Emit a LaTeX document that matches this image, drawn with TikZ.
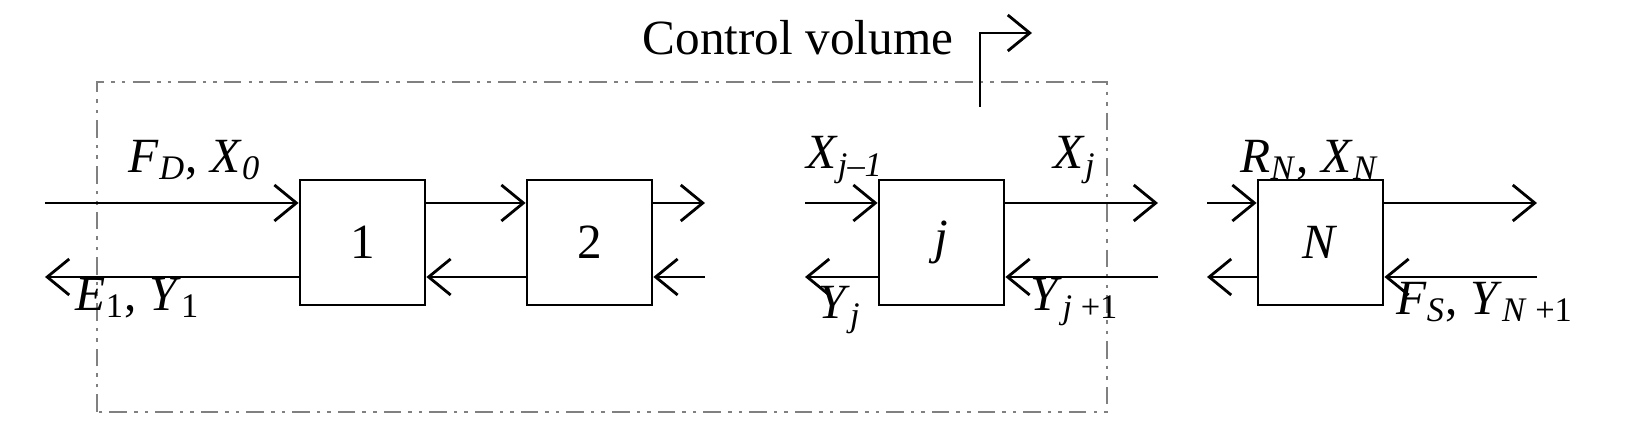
\documentclass[tikz,border=0pt]{standalone}
\usepackage{fontspec}
\setmainfont{Liberation Serif}
\usetikzlibrary{arrows.meta}
\newcommand{\vi}[1]{\textit{#1}}
\tikzset{
    stage/.style = {draw, line width=0.8pt, minimum width=1.25cm, minimum height=1.25cm, inner sep=0pt, font=\fontsize{14}{16}\selectfont},
    flow/.style = {line width=0.8pt, -{Straight Barb[length=2.2mm, width=3.6mm]}},
    lbl/.style = {font=\fontsize{14}{16}\selectfont}
}
\begin{document}
\begin{tikzpicture}
    \useasboundingbox (0, 0) rectangle (16.5, 4.28);
    % control volume
    \draw [gray, line width=0.8pt, dash pattern=on 5pt off 2pt on 1pt off 2pt on 1pt off 2pt] (0.97, 0.16) rectangle (11.07, 3.46);
    \node [lbl] at (7.98, 3.9) (cv) {Control volume};
    \coordinate (c0) at (9.8, 3.21);
    \coordinate (c1) at (9.8, 3.95);
    \coordinate (c2) at (10.32, 3.95);
    \draw [flow] (c0) -- (c1) -- (c2);
    % stages
    \node [stage] at (3.625, 1.855) (s1) {1};
    \node [stage] at (5.895, 1.855) (s2) {2};
    \node [stage] at (9.415, 1.855) (sj) {\vi{j}};
    \node [stage] at (13.205, 1.855) (sN) {\vi{N}};
    % free ends
    \coordinate (a0) at (0.45, 2.25);
    \coordinate (b0) at (0.45, 1.51);
    \coordinate (a2) at (7.05, 2.25);
    \coordinate (b2) at (7.05, 1.51);
    \coordinate (aj) at (8.05, 2.25);
    \coordinate (bj) at (8.05, 1.51);
    \coordinate (aj2) at (11.58, 2.25);
    \coordinate (bj2) at (11.58, 1.51);
    \coordinate (aN) at (12.07, 2.25);
    \coordinate (bN) at (12.07, 1.51);
    \coordinate (aN2) at (15.37, 2.25);
    \coordinate (bN2) at (15.37, 1.51);
    % streams
    \draw [flow] (a0) -- (a0 -| s1.west);
    \draw [flow] (b0 -| s1.west) -- (b0);
    \draw [flow] (a0 -| s1.east) -- (a0 -| s2.west);
    \draw [flow] (b0 -| s2.west) -- (b0 -| s1.east);
    \draw [flow] (a2 -| s2.east) -- (a2);
    \draw [flow] (b2) -- (b2 -| s2.east);
    \draw [flow] (aj) -- (aj -| sj.west);
    \draw [flow] (bj -| sj.west) -- (bj);
    \draw [flow] (aj2 -| sj.east) -- (aj2);
    \draw [flow] (bj2) -- (bj2 -| sj.east);
    \draw [flow] (aN) -- (aN -| sN.west);
    \draw [flow] (bN -| sN.west) -- (bN);
    \draw [flow] (aN2 -| sN.east) -- (aN2);
    \draw [flow] (bN2) -- (bN2 -| sN.east);
    % labels
    \node [lbl] at (1.95, 2.68) {\vi{F}\textsubscript{\vi{D}}, \vi{X}\textsubscript{\vi{0}}};
    \node [lbl] at (1.38, 1.3) {\vi{E}\textsubscript{1}, \vi{Y}\textsubscript{1}};
    \node [lbl] at (8.45, 2.68) {\vi{X}\textsubscript{\vi{j}–\vi{1}}};
    \node [lbl] at (10.75, 2.68) {\vi{X}\textsubscript{\vi{j}}};
    \node [lbl] at (8.4, 1.18) {\vi{Y}\textsubscript{\vi{j}}};
    \node [lbl] at (10.75, 1.26) {\vi{Y}\textsubscript{\vi{j} +1}};
    \node [lbl] at (13.1, 2.68) {\vi{R}\textsubscript{\vi{N}}, \vi{X}\textsubscript{\vi{N}}};
    \node [lbl] at (14.85, 1.26) {\vi{F}\textsubscript{\vi{S}}, \vi{Y}\textsubscript{\vi{N} +1}};
\end{tikzpicture}
\end{document}
